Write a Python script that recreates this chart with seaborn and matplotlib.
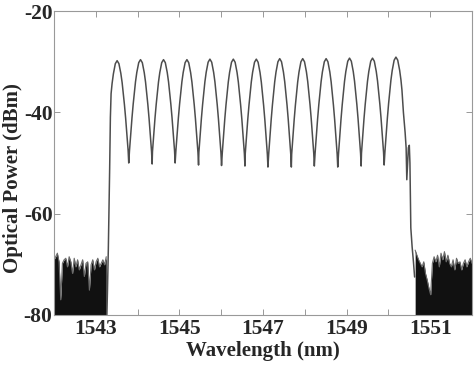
import numpy as np
import pandas as pd
import matplotlib
matplotlib.use("Agg")
import matplotlib.pyplot as plt
import seaborn as sns

# comb lobes: peak wavelength (nm) and peak power (dBm)
peak_nm = [1543.51, 1544.07, 1544.62, 1545.18, 1545.73, 1546.29, 1546.84,
           1547.40, 1547.95, 1548.51, 1549.07, 1549.62, 1550.18]
peak_db = [-29.8, -29.6, -29.6, -29.6, -29.5, -29.5, -29.5,
           -29.4, -29.4, -29.4, -29.3, -29.3, -29.1]
# notch depth between neighbouring lobes (dBm)
dip_db = [-50.0, -50.2, -50.0, -50.4, -50.5, -50.6,
          -50.8, -50.8, -50.6, -50.8, -50.6, -50.4]

lobe_off = [0.0, 0.043, 0.089, 0.120, 0.144, 0.175, 0.204, 0.240, 0.264, 0.278]
lobe_frac = [0.0, 0.029, 0.124, 0.214, 0.310, 0.429, 0.562, 0.752, 0.881, 1.0]

# filter edges
left_edge_nm = [1543.265, 1543.28, 1543.30, 1543.332, 1543.349,
                1543.366, 1543.39, 1543.421, 1543.467]
left_edge_db = [-80.0, -75.0, -67.0, -51.0, -41.0, -36.3, -34.3, -32.4, -30.4]
right_edge_nm = [1550.223, 1550.269, 1550.30, 1550.324, 1550.359, 1550.40,
                 1550.424, 1550.44, 1550.459, 1550.478, 1550.50, 1550.515,
                 1550.536, 1550.567, 1550.599, 1550.627]
right_edge_db = [-29.7, -31.7, -33.6, -35.6, -40.0, -44.0, -47.0, -53.3,
                 -50.0, -47.0, -46.5, -50.0, -62.8, -66.5, -69.5, -72.5]

# noise floor outside the band (top of the trace, dBm)
noise_left_db = [-69.1, -68.5, -67.8, -69.5, -77.0, -69.8, -69.1, -68.8,
                 -70.5, -68.5, -69.5, -71.8, -68.8, -70.5, -69.1, -71.1,
                 -70.1, -69.1, -72.4, -69.8, -69.5, -75.1, -70.1, -69.1,
                 -71.1, -69.5, -68.8, -70.5, -69.8, -69.1, -70.1, -68.5]
noise_right_db = [-67.2, -68.2, -69.1, -69.8, -70.5, -69.5, -71.8, -73.1,
                  -74.7, -76.0, -69.8, -68.5, -69.5, -68.2, -70.5, -67.8,
                  -69.1, -67.5, -69.5, -68.2, -69.8, -70.5, -69.1, -71.1,
                  -68.8, -69.8, -69.5, -71.1, -69.8, -69.1, -70.5, -69.5,
                  -68.8, -69.8]
noise_left_nm = np.linspace(1542.0, 1543.25, len(noise_left_db))
noise_right_nm = np.linspace(1550.64, 1552.0, len(noise_right_db))

x_ticks = [1543, 1545, 1547, 1549, 1551]
x_minor = [1544, 1546, 1548, 1550]
y_ticks = [-80, -60, -40, -20]

# assemble the passband trace
xs, ys = list(left_edge_nm), list(left_edge_db)
for i, (pk, pv) in enumerate(zip(peak_nm, peak_db)):
    if i > 0:
        dl = dip_db[i - 1]
        for off, fr in zip(lobe_off[::-1][1:], lobe_frac[::-1][1:]):
            xs.append(pk - off)
            ys.append(pv - fr * (pv - dl))
    else:
        xs.append(pk)
        ys.append(pv)
    if i < len(dip_db):
        dr = dip_db[i]
        for off, fr in zip(lobe_off[1:], lobe_frac[1:]):
            xs.append(pk + off)
            ys.append(pv - fr * (pv - dr))
xs += right_edge_nm
ys += right_edge_db
spec = pd.DataFrame({"nm": xs, "dbm": ys})

sns.set_style("ticks")
plt.rcParams["font.family"] = ["Liberation Serif", "DejaVu Serif"]
plt.rcParams["font.weight"] = "bold"
plt.rcParams["axes.unicode_minus"] = False

fig = plt.figure(figsize=(4.74, 3.73), dpi=100)
ax = fig.add_axes([0.1139, 0.1555, 0.8819, 0.815])

# noise floor
for nx, ny in [(noise_left_nm, noise_left_db), (noise_right_nm, noise_right_db)]:
    ax.fill_between(nx, -80, ny, color="#111111", lw=0)
    ax.plot(nx, ny, color="#6a6a6a", lw=0.8)

sns.lineplot(data=spec, x="nm", y="dbm", sort=False, estimator=None,
             color="#4d4d4d", linewidth=1.1, ax=ax)

ax.set_xlim(1542, 1552)
ax.set_ylim(-80, -20)
ax.set_xticks(x_ticks)
ax.set_xticks(x_minor, minor=True)
ax.set_yticks(y_ticks)
ax.tick_params(which="both", direction="in", top=True, right=True,
               length=4, width=0.6, color="#888888", labelsize=15.5)
ax.tick_params(axis="x", pad=3)
ax.tick_params(axis="y", pad=1)
for s in ax.spines.values():
    s.set_color("#999999")
    s.set_linewidth(0.8)

ax.set_xlabel("Wavelength (nm)", fontsize=15, fontweight="bold", labelpad=1)
ax.set_ylabel("Optical Power (dBm)", fontsize=15, fontweight="bold")
ax.yaxis.set_label_coords(-0.074, 0.45)

fig.savefig("out.png", dpi=100)
